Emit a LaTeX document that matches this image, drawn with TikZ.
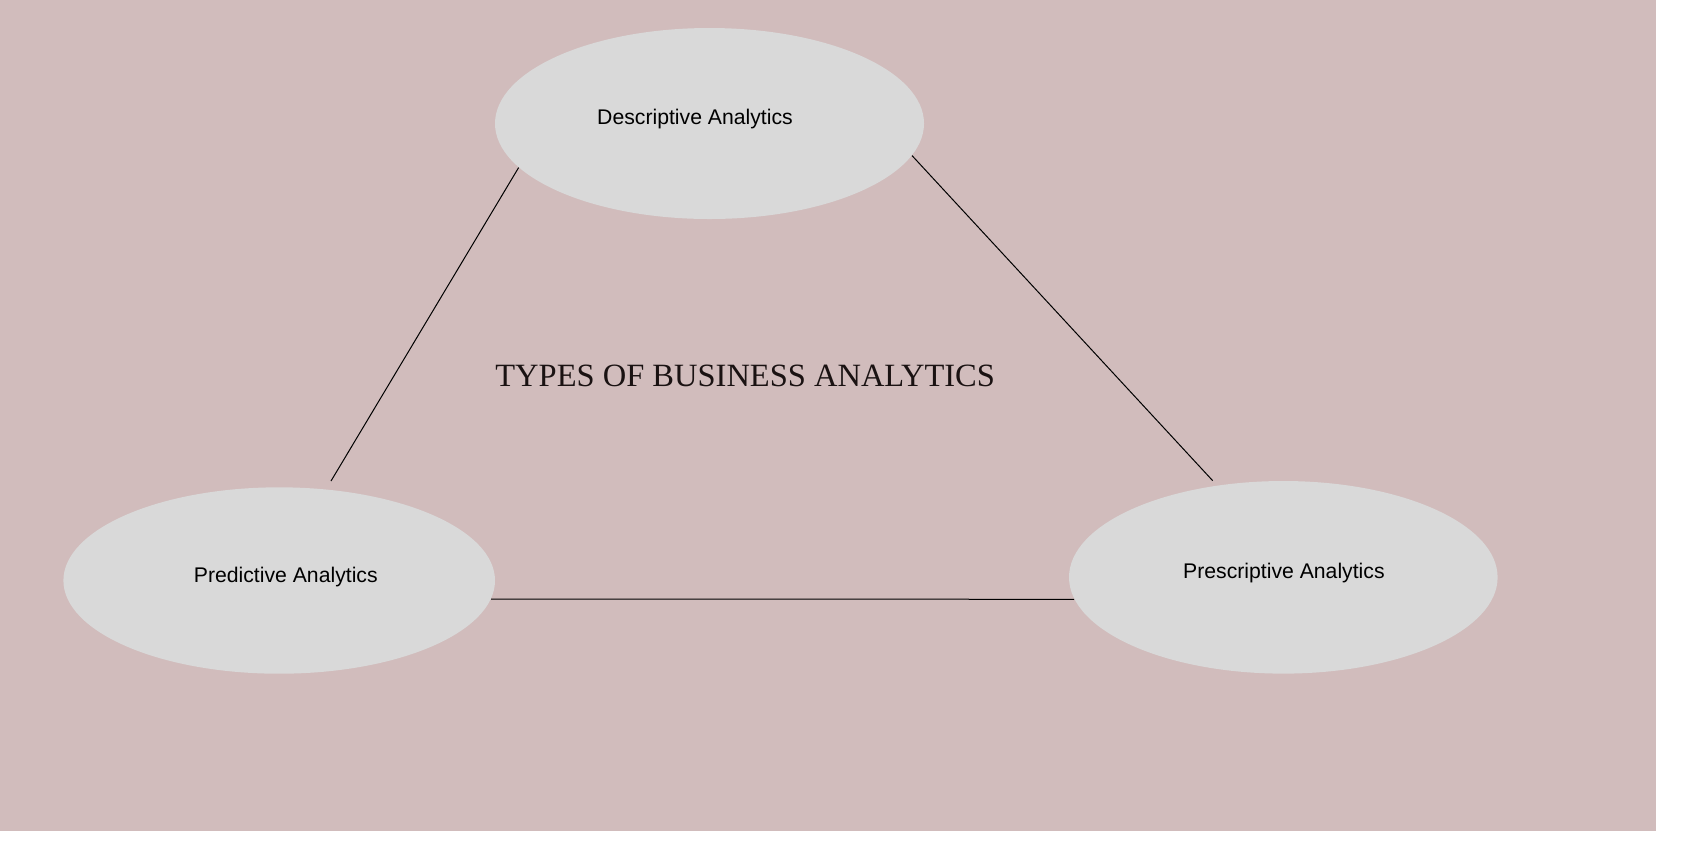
\documentclass[tikz,border=0pt]{standalone}
\usepackage{fontspec}
\setmainfont{Liberation Serif}
\newfontfamily\labelfont{Liberation Sans}
\usetikzlibrary{shapes.geometric}
\definecolor{bgpink}{RGB}{209,188,188}
\definecolor{blobgray}{RGB}{217,217,217}
\definecolor{titleink}{RGB}{26,18,18}
\begin{document}
\begin{tikzpicture}[x=0.5pt,y=-0.5pt,
  blob/.style={ellipse,fill=blobgray,draw=none,inner sep=0pt},
  lbl/.style={anchor=base,inner sep=0pt,font=\labelfont\fontsize{10.6pt}{12pt}\selectfont,text=black},
  ttl/.style={anchor=base,inner sep=0pt,font=\fontsize{16.25pt}{18pt}\selectfont,text=titleink},
  link/.style={draw=black,line width=0.5pt}]
\useasboundingbox (0,0) rectangle (1690,843);
\fill[white] (0,0) rectangle (1690,843);
\fill[bgpink] (0,0) rectangle (1656,831);
% ellipses
\node[blob,minimum width=429pt*0.5,minimum height=191pt*0.5] (desc) at (709.5,123.5) {};
\node[blob,minimum width=431.6pt*0.5,minimum height=186.4pt*0.5] (pred) at (279.2,580.5) {};
\node[blob,minimum width=428.6pt*0.5,minimum height=192.6pt*0.5] (presc) at (1283.3,577.3) {};
% labels
\node[lbl] (descl) at (695,124) {Descriptive Analytics};
\node[lbl] (predl) at (285.8,582.7) {Predictive Analytics};
\node[lbl] (prescl) at (1283.9,578.3) {Prescriptive Analytics};
\node[ttl] (title) at (745.2,386.7) {TYPES OF BUSINESS ANALYTICS};
% connector ends
\coordinate (predtop) at (331,481);
\coordinate (presctop) at (1212.7,480.7);
\draw[link] (desc.193) -- (predtop);
\draw[link] (desc.351.8) -- (presctop);
\draw[link] (pred.-5.1) -- (presc.186.2);
\end{tikzpicture}
\end{document}
